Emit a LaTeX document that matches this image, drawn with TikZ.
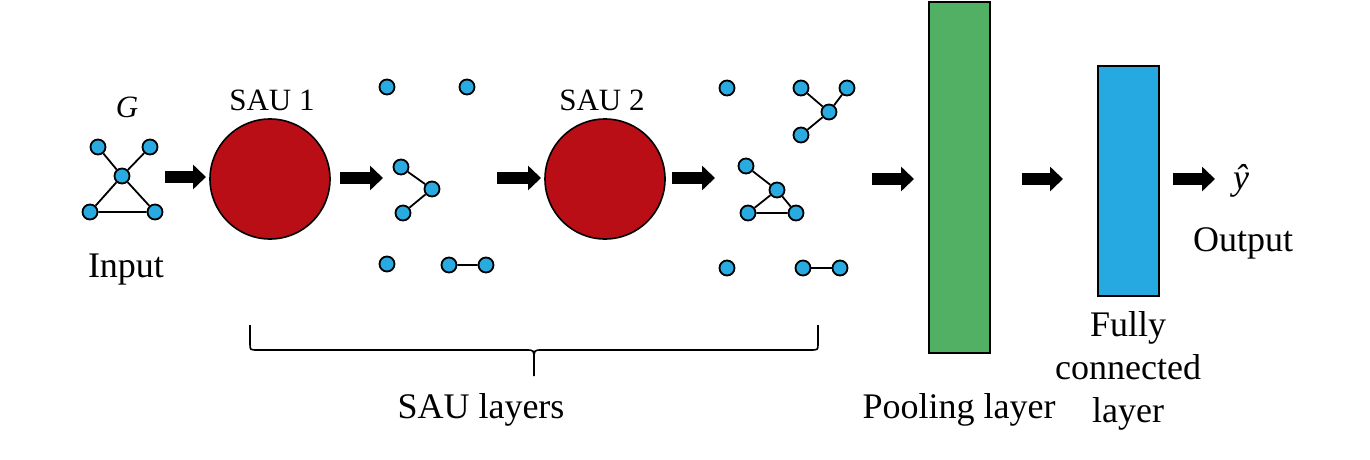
\documentclass[tikz,border=0pt]{standalone}
\usepackage{fontspec}
\setmainfont{Liberation Serif}
\usetikzlibrary{arrows.meta}
\definecolor{nodeblue}{RGB}{41,171,226}
\definecolor{saured}{RGB}{186,14,22}
\definecolor{poolgreen}{RGB}{82,176,100}
\definecolor{fcblue}{RGB}{37,169,224}
\tikzset{
  gv/.style={circle,draw=black,fill=nodeblue,line width=0.9pt,inner sep=0pt,minimum size=7.5pt},
  ge/.style={line width=0.9pt},
  sau/.style={circle,draw=black,fill=saured,line width=0.8pt,minimum size=60pt,inner sep=0pt},
  bigarrow/.style={line width=6pt,-{Triangle[length=6.5pt,width=12pt]}},
  lbl/.style={font=\fontsize{18}{21.5}\selectfont,align=center,inner sep=0pt},
  slbl/.style={font=\fontsize{15.5}{18}\selectfont,inner sep=0pt}
}
\begin{document}
\begin{tikzpicture}[x=0.5pt,y=-0.5pt]
\useasboundingbox (0,0) rectangle (1370,460);
% input graph
\node[gv] (i1) at (98,147) {};
\node[gv] (i2) at (150,147) {};
\node[gv] (i3) at (122,176) {};
\node[gv] (i4) at (90,212) {};
\node[gv] (i5) at (155,212) {};
\draw[ge] (i1) -- (i3) (i2) -- (i3) (i3) -- (i4) (i3) -- (i5) (i4) -- (i5);
\node[font=\fontsize{15.5}{18}\selectfont\itshape,inner sep=0pt] (G) at (127,107) {G};
\node[lbl] (inp) at (126,270) {Input};
% SAU1
\node[sau] (s1) at (270,179) {};
\node[slbl] (s1l) at (272,100) {SAU 1};
% graph after SAU1
\node[gv] (a1) at (387,87) {};
\node[gv] (a2) at (467,87) {};
\node[gv] (a3) at (401,167) {};
\node[gv] (a4) at (432,189) {};
\node[gv] (a5) at (403,213) {};
\node[gv] (a6) at (387,264) {};
\node[gv] (a7) at (449,265) {};
\node[gv] (a8) at (486,265) {};
\draw[ge] (a3) -- (a4) -- (a5) (a7) -- (a8);
% SAU2
\node[sau] (s2) at (605,179) {};
\node[slbl] (s2l) at (602,100) {SAU 2};
% graph after SAU2
\node[gv] (b1) at (727,88) {};
\node[gv] (b2) at (801,88) {};
\node[gv] (b3) at (847,88) {};
\node[gv] (b4) at (829,112) {};
\node[gv] (b5) at (801,135) {};
\node[gv] (b6) at (746,166) {};
\node[gv] (b7) at (777,190) {};
\node[gv] (b8) at (748,213) {};
\node[gv] (b9) at (796,213) {};
\node[gv] (b10) at (727,268) {};
\node[gv] (b11) at (803,268) {};
\node[gv] (b12) at (840,268) {};
\draw[ge] (b2) -- (b4) (b3) -- (b4) (b4) -- (b5);
\draw[ge] (b6) -- (b7) (b7) -- (b8) (b7) -- (b9) (b8) -- (b9);
\draw[ge] (b11) -- (b12);
% layers
\node[draw=black,fill=poolgreen,line width=1pt,minimum width=30.5pt,minimum height=175.5pt,inner sep=0pt,anchor=north west] (pool) at (928,1) {};
\node[draw=black,fill=fcblue,line width=1pt,minimum width=30.5pt,minimum height=115pt,inner sep=0pt,anchor=north west] (fc) at (1097,65) {};
\node[lbl] (pooll) at (959,410) {Pooling layer};
\node[lbl] (fcl) at (1128,371) {Fully\\connected\\layer};
\node[font=\fontsize{18}{21.5}\selectfont\itshape,inner sep=0pt] (yhat) at (1241,181) {ŷ};
\node[lbl] (outl) at (1243,243) {Output};
% arrows
\coordinate (p1a) at (165,177); \coordinate (p1b) at (206,177);
\coordinate (p2a) at (340,178); \coordinate (p2b) at (383,178);
\coordinate (p3a) at (497,178); \coordinate (p3b) at (541,178);
\coordinate (p4a) at (672,178); \coordinate (p4b) at (715,178);
\coordinate (p5a) at (872,179); \coordinate (p5b) at (914,179);
\coordinate (p6a) at (1022,179); \coordinate (p6b) at (1063,179);
\coordinate (p7a) at (1173,179); \coordinate (p7b) at (1215,179);
\foreach \k in {1,...,7} \draw[bigarrow] (p\k a) -- (p\k b);
% brace
\coordinate (bl) at (250,325);
\coordinate (br) at (818,325);
\coordinate (bt) at (534,376);
\draw[line width=0.8pt] (bl) -- (250,344) .. controls (250,350) .. (258,350) -- (526,350) .. controls (534,350) .. (534,360) -- (bt);
\draw[line width=0.8pt] (br) -- (818,344) .. controls (818,350) .. (810,350) -- (542,350) .. controls (534,350) .. (534,360);
\node[lbl] (saul) at (481,410) {SAU layers};
\end{tikzpicture}
\end{document}
